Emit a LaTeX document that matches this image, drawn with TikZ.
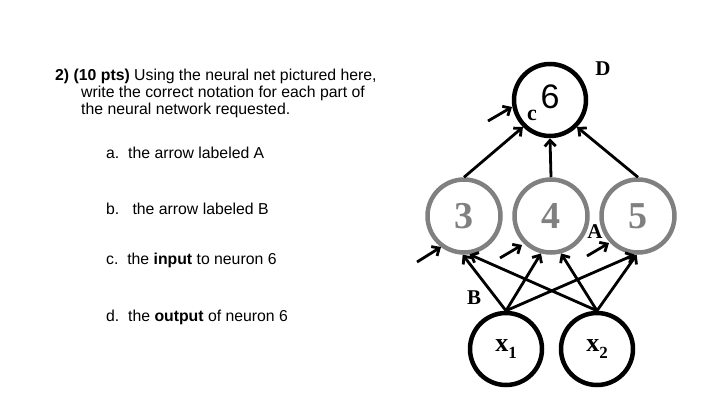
\documentclass[tikz,border=0pt]{standalone}
\usepackage{fontspec}
\setmainfont{Liberation Sans}
\newfontfamily\serif{Liberation Serif}
\usetikzlibrary{arrows.meta}
\begin{document}
\begin{tikzpicture}[x=1pt,y=-1pt,
  txt/.style={anchor=base west,inner sep=0,font=\fontsize{15.8}{18}\selectfont},
  blk/.style={circle,draw=black,line width=4.5pt,minimum size=72pt,inner sep=0},
  gry/.style={circle,draw=gray,line width=4.5pt,minimum size=73pt,inner sep=0,text=gray,font=\serif\bfseries\fontsize{38}{40}\selectfont},
  arr/.style={->,line width=2.8pt,>={Straight Barb[length=6pt,width=11pt]}},
  lab/.style={inner sep=0,font=\serif\bfseries\fontsize{21}{22}\selectfont}]
\useasboundingbox (0,0) rectangle (707,402);
\node[txt] (t1) at (55,80) {\textbf{2)\ (10 pts)} Using the neural net pictured here,};
\node[txt] (t2) at (81,97) {write the correct notation for each part of};
\node[txt] (t3) at (81,114) {the neural network requested.};
\node[txt] (a) at (106,158) {a.\ \ the arrow labeled A};
\node[txt] (b) at (106,214) {b.\ \ \ the arrow labeled B};
\node[txt] (c) at (106,264) {c.\ \ the \textbf{input} to neuron 6};
\node[txt] (d) at (106,321) {d.\ \ the \textbf{output} of neuron 6};
\node[blk,font=\fontsize{34}{36}\selectfont] (n6) at (550,100) {\raisebox{6pt}{6}};
\node[gry] (n3) at (464,216) {3};
\node[gry] (n4) at (551,216) {4};
\node[gry] (n5) at (638,216) {5};
\node[blk,font=\serif\bfseries\fontsize{26}{28}\selectfont] (x1) at (506,349) {x\raisebox{-7pt}{\fontsize{17}{18}\selectfont 1}};
\node[blk,font=\serif\bfseries\fontsize{26}{28}\selectfont] (x2) at (597,349) {x\raisebox{-7pt}{\fontsize{17}{18}\selectfont 2}};
\draw[arr] (n3.north) -- (n6.-135);
\draw[arr] (n4.north) -- (n6.south);
\draw[arr] (n5.north) -- (n6.-45);
\draw[arr] (x1.north) -- (n3.-92);
\draw[arr] (x1.north) -- (n4.-105);
\draw[arr] (x1.north) -- (n5.-95);
\draw[arr] (x2.north) -- (n3.-82);
\draw[arr] (x2.north) -- (n4.-75);
\draw[arr] (x2.north) -- (n5.-92);
\coordinate (s1) at (417,262); \coordinate (e1) at (441,247);
\coordinate (s2) at (500,258); \coordinate (e2) at (522,245);
\coordinate (s3) at (587,256); \coordinate (e3) at (609,243);
\coordinate (s4) at (488,121); \coordinate (e4) at (512,107);
\draw[arr] (s1) -- (e1);
\draw[arr] (s2) -- (e2);
\draw[arr] (s3) -- (e3);
\draw[arr] (s4) -- (e4);
\node[lab,font=\serif\bfseries\fontsize{22}{22}\selectfont] (C) at (532,115) {c};
\node[lab] (D) at (603,69) {D};
\node[lab] (A) at (595,232) {A};
\node[lab] (B) at (474,298) {B};
\end{tikzpicture}
\end{document}
